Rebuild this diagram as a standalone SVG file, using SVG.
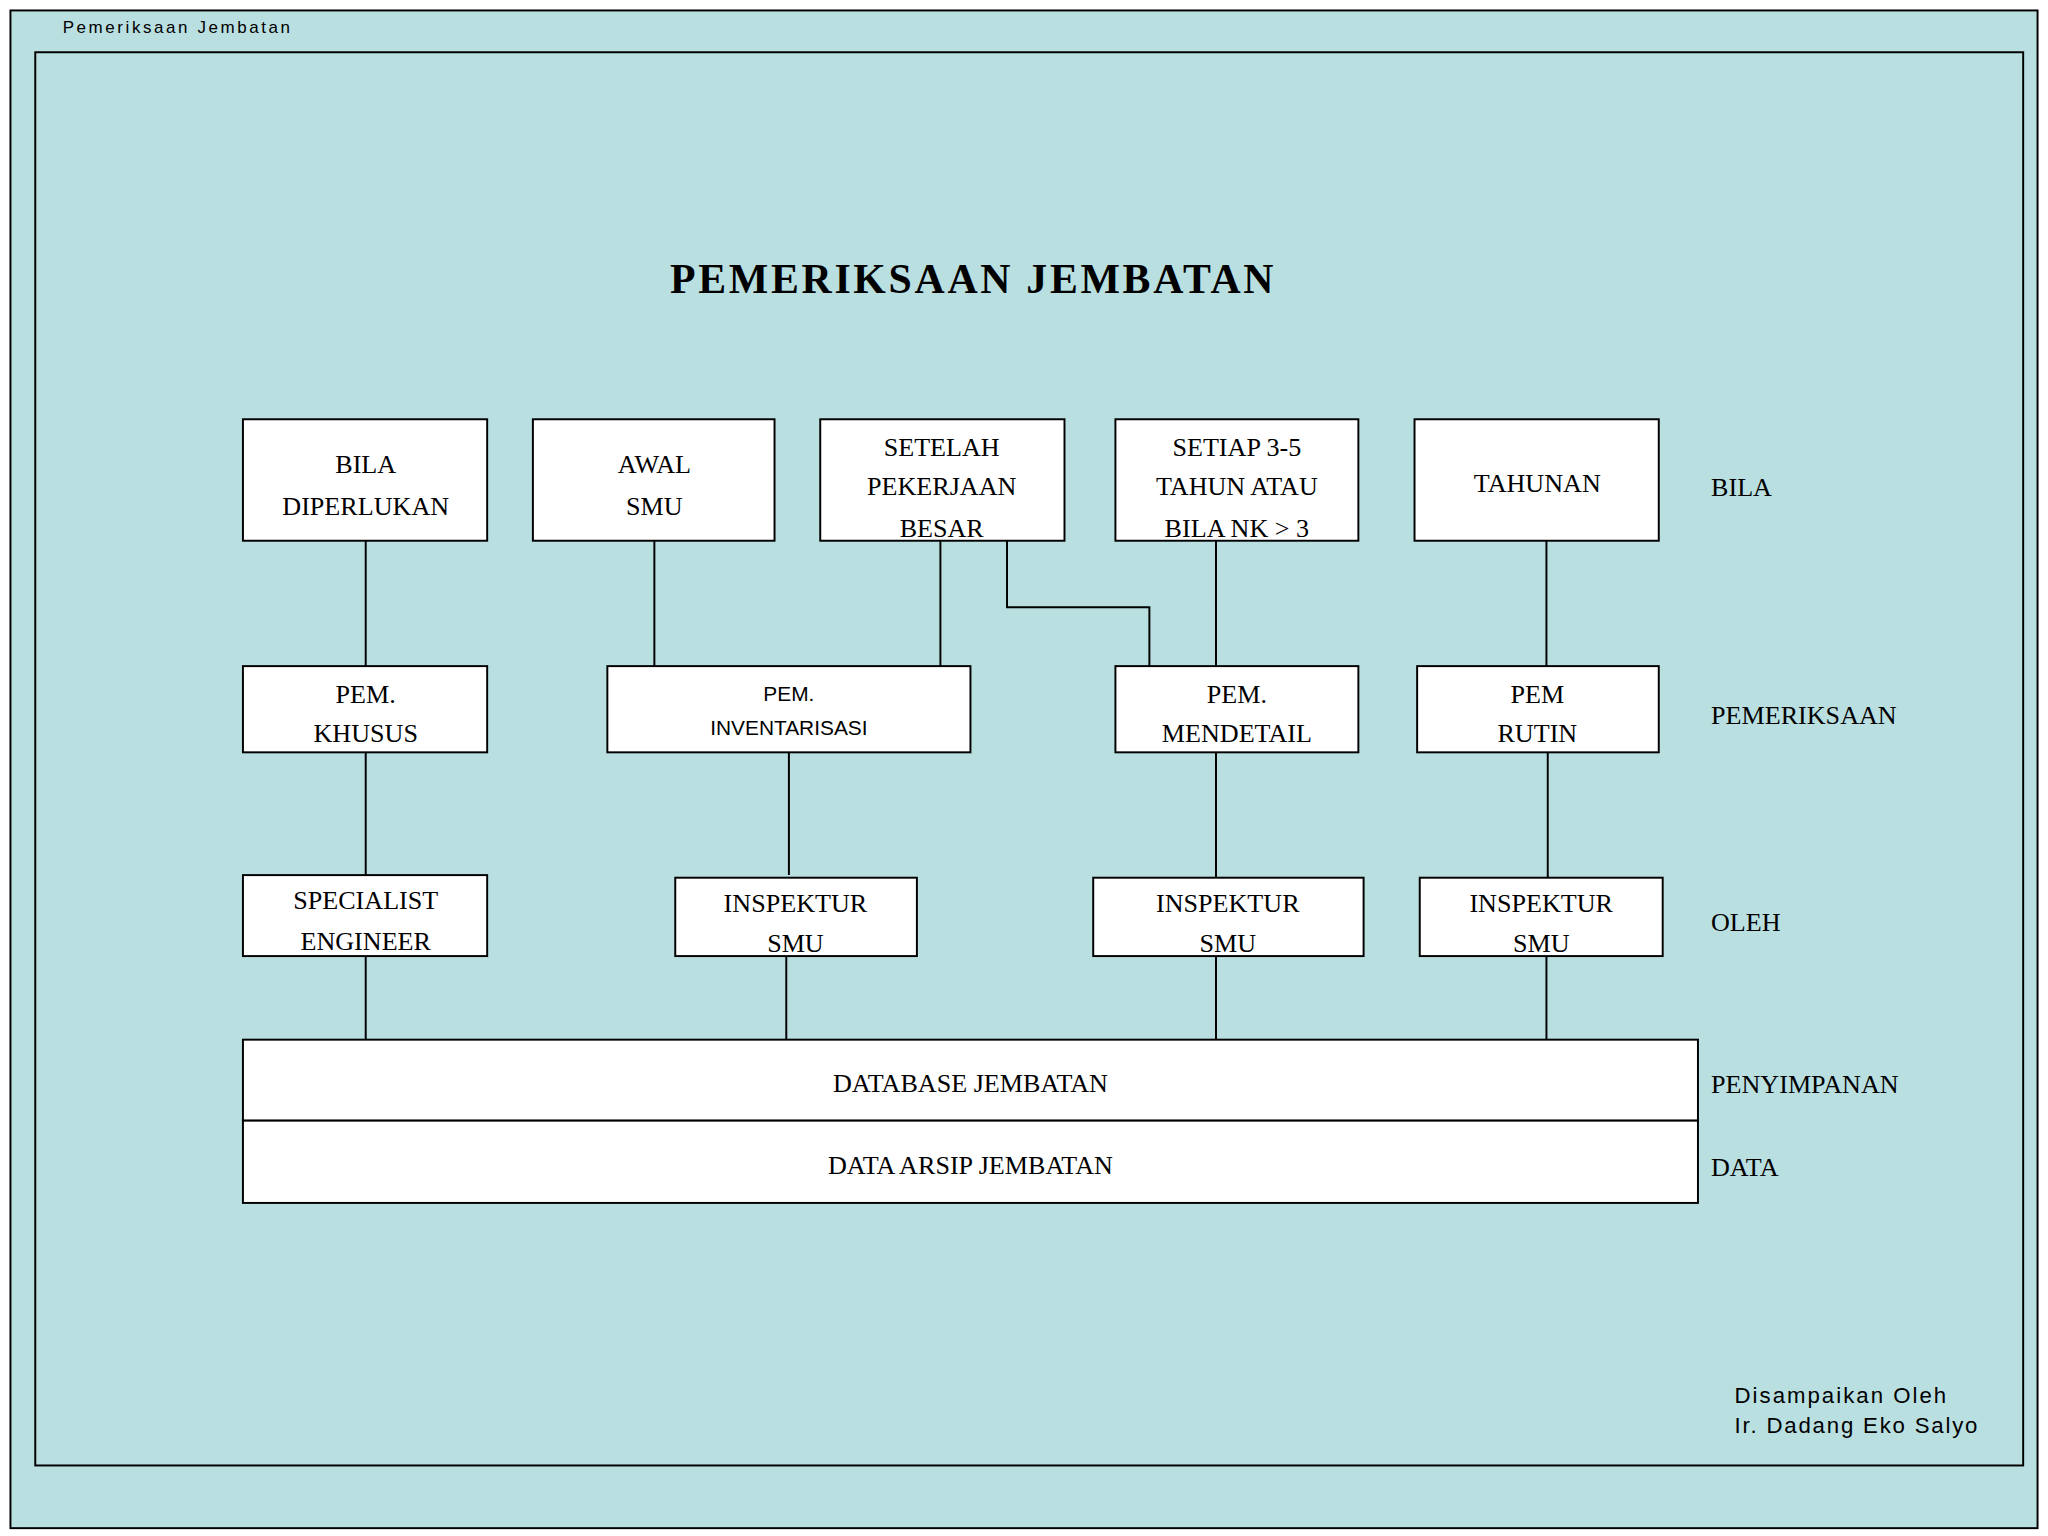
<svg xmlns="http://www.w3.org/2000/svg" width="2048" height="1536" viewBox="0 0 2048 1536">
<style>
.b{fill:#fff;stroke:#000;stroke-width:1.5}
.t{font-family:"Liberation Serif",serif;font-size:20px;text-anchor:middle;fill:#000}
.s{font-family:"Liberation Sans",sans-serif;font-size:16px;text-anchor:middle;fill:#000}
.r{font-family:"Liberation Serif",serif;font-size:20px;fill:#000}
.c{stroke:#000;stroke-width:1.5;fill:none}
</style>
<rect width="2048" height="1536" fill="#fff"/>
<g transform="scale(1.30612)">
<rect x="8" y="8" width="1552" height="1162" fill="#b9dfe1" stroke="#000" stroke-width="1.5"/>
<rect x="27" y="40" width="1522" height="1082" fill="#b9dfe1" stroke="#000" stroke-width="1.5"/>
<text x="48" y="25" font-family="Liberation Sans,sans-serif" font-size="13" textLength="174">Pemeriksaan Jembatan</text>
<text x="513" y="224" font-family="Liberation Serif,serif" font-size="32" font-weight="bold" textLength="462">PEMERIKSAAN JEMBATAN</text>
<g id="connectors">
<path class="c" d="M280 414V510M280 576V670M280 732V796M501 414V510M720 414V510M771 414V465H880V510M931 414V510M1184 414V510M604 576V670M931 576V672M1185 576V672M602 732V796M931 732V796M1184 732V796"/>
</g>
<g id="n1"><rect class="b" x="186" y="321" width="187" height="93"/><text class="t" x="280" y="362">BILA</text><text class="t" x="280" y="394">DIPERLUKAN</text></g>
<g id="n2"><rect class="b" x="408" y="321" width="185" height="93"/><text class="t" x="501" y="362">AWAL</text><text class="t" x="501" y="394">SMU</text></g>
<g id="n3"><rect class="b" x="628" y="321" width="187" height="93"/><text class="t" x="721" y="349">SETELAH</text><text class="t" x="721" y="379">PEKERJAAN</text><text class="t" x="721" y="411">BESAR</text></g>
<g id="n4"><rect class="b" x="854" y="321" width="186" height="93"/><text class="t" x="947" y="349">SETIAP 3-5</text><text class="t" x="947" y="379">TAHUN ATAU</text><text class="t" x="947" y="411">BILA NK &gt; 3</text></g>
<g id="n5"><rect class="b" x="1083" y="321" width="187" height="93"/><text class="t" x="1177" y="377">TAHUNAN</text></g>
<g id="n6"><rect class="b" x="186" y="510" width="187" height="66"/><text class="t" x="280" y="538">PEM.</text><text class="t" x="280" y="568">KHUSUS</text></g>
<g id="n7"><rect class="b" x="465" y="510" width="278" height="66"/><text class="s" x="604" y="537">PEM.</text><text class="s" x="604" y="563">INVENTARISASI</text></g>
<g id="n8"><rect class="b" x="854" y="510" width="186" height="66"/><text class="t" x="947" y="538">PEM.</text><text class="t" x="947" y="568">MENDETAIL</text></g>
<g id="n9"><rect class="b" x="1085" y="510" width="185" height="66"/><text class="t" x="1177" y="538">PEM</text><text class="t" x="1177" y="568">RUTIN</text></g>
<g id="n10"><rect class="b" x="186" y="670" width="187" height="62"/><text class="t" x="280" y="696">SPECIALIST</text><text class="t" x="280" y="727">ENGINEER</text></g>
<g id="n11"><rect class="b" x="517" y="672" width="185" height="60"/><text class="t" x="609" y="698">INSPEKTUR</text><text class="t" x="609" y="729">SMU</text></g>
<g id="n12"><rect class="b" x="837" y="672" width="207" height="60"/><text class="t" x="940" y="698">INSPEKTUR</text><text class="t" x="940" y="729">SMU</text></g>
<g id="n13"><rect class="b" x="1087" y="672" width="186" height="60"/><text class="t" x="1180" y="698">INSPEKTUR</text><text class="t" x="1180" y="729">SMU</text></g>
<g id="n14"><rect class="b" x="186" y="796" width="1114" height="62"/><text class="t" x="743" y="836">DATABASE JEMBATAN</text></g>
<g id="n15"><rect class="b" x="186" y="858" width="1114" height="63"/><text class="t" x="743" y="899">DATA ARSIP JEMBATAN</text></g>
<text class="r" x="1310" y="380">BILA</text>
<text class="r" x="1310" y="554">PEMERIKSAAN</text>
<text class="r" x="1310" y="713">OLEH</text>
<text class="r" x="1310" y="837">PENYIMPANAN</text>
<text class="r" x="1310" y="900">DATA</text>
<text x="1328" y="1074" font-family="Liberation Sans,sans-serif" font-size="17" textLength="162">Disampaikan Oleh</text>
<text x="1328" y="1097" font-family="Liberation Sans,sans-serif" font-size="17" textLength="186">Ir. Dadang Eko Salyo</text>
</g>
</svg>
